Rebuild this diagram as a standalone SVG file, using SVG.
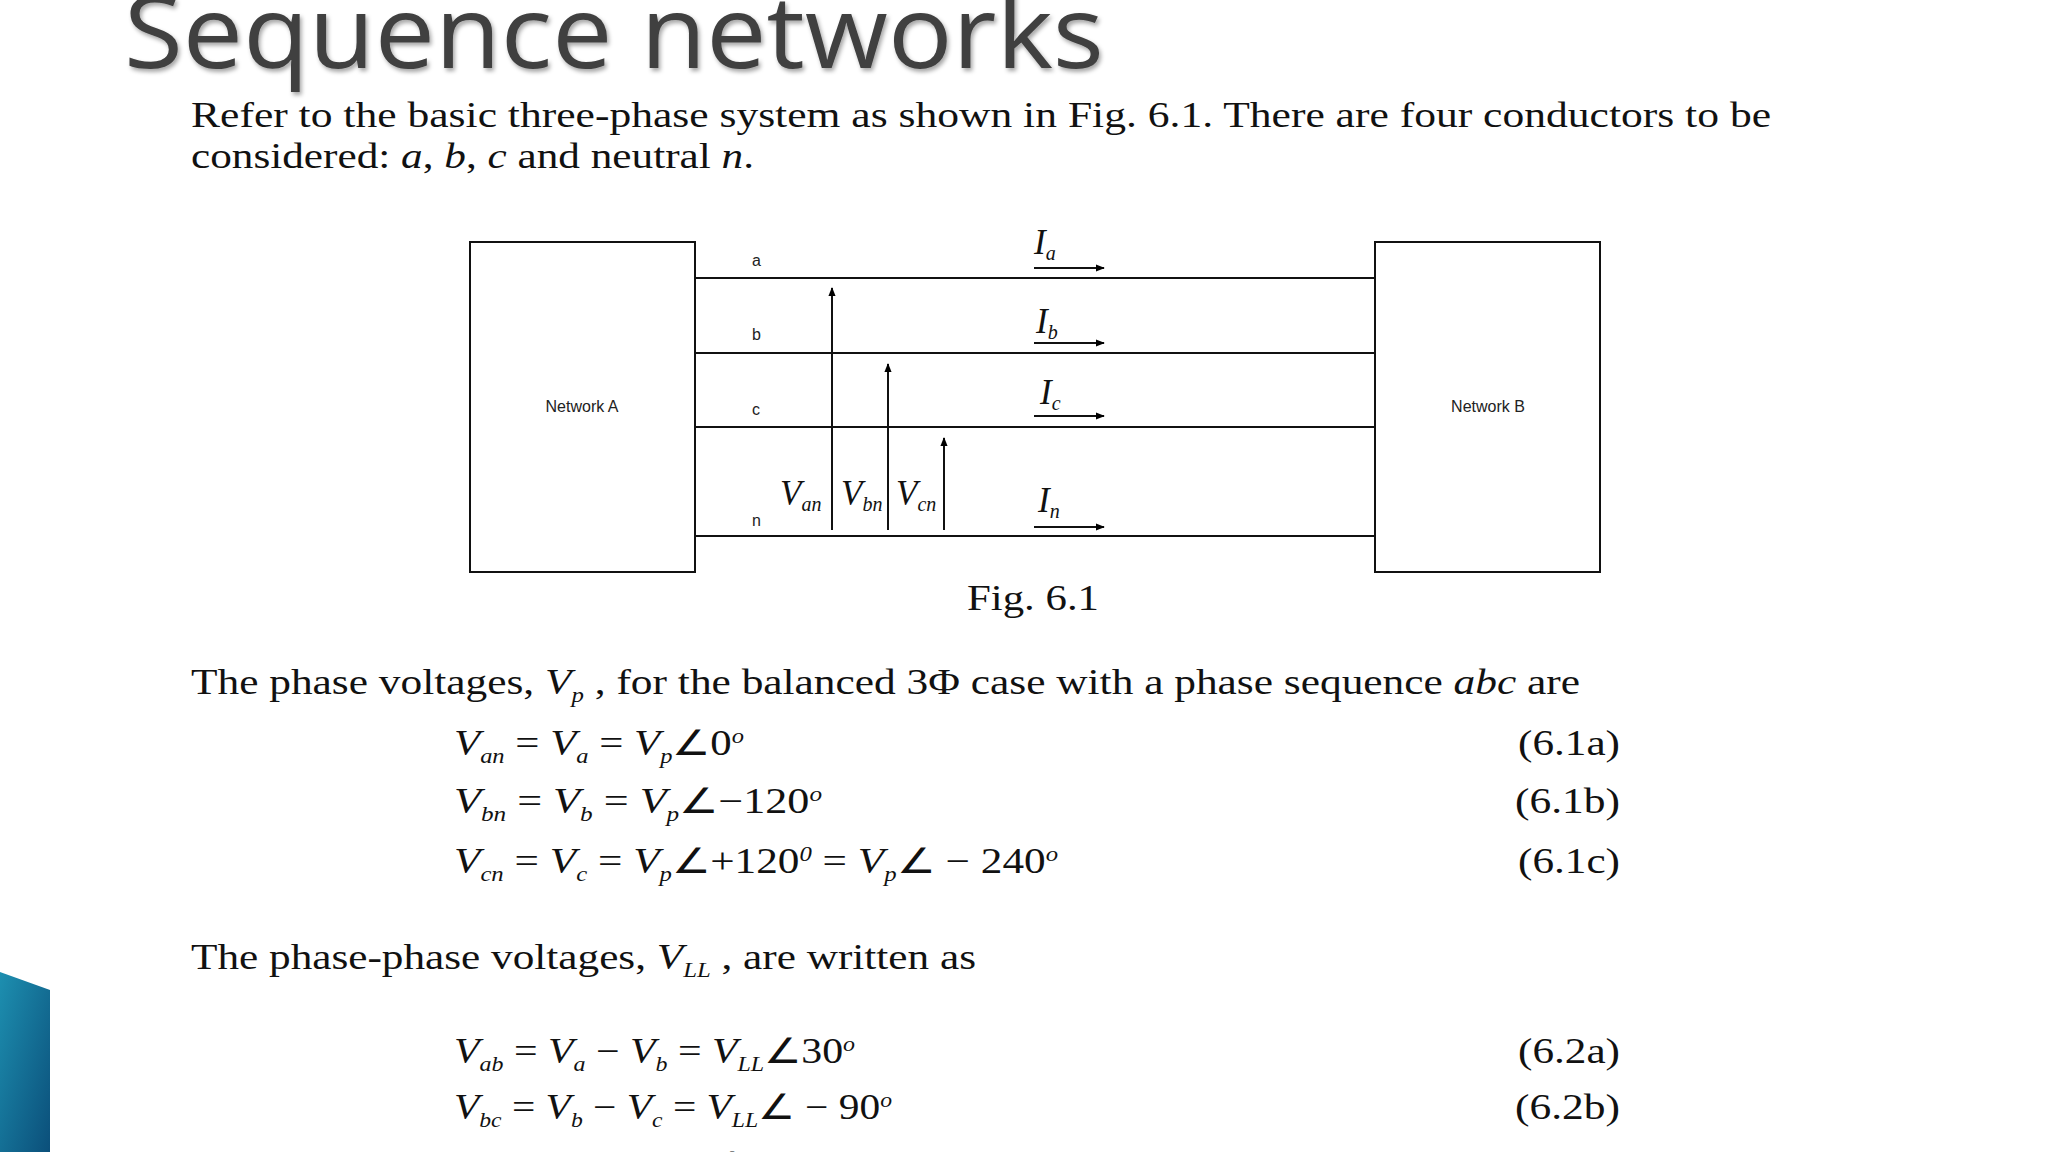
<svg xmlns="http://www.w3.org/2000/svg" width="2048" height="1152" viewBox="0 0 2048 1152">
<defs>
<linearGradient id="teal" x1="0" y1="0" x2="1" y2="1"><stop offset="0" stop-color="#1d8fb0"/><stop offset="1" stop-color="#0b4f7a"/></linearGradient>
<filter id="sh"><feDropShadow dx="2" dy="3" stdDeviation="2" flood-color="#000" flood-opacity="0.35"/></filter>
<marker id="ah" viewBox="0 0 10 10" refX="9" refY="5" markerWidth="9" markerHeight="9" markerUnits="userSpaceOnUse" orient="auto"><path d="M0,1 L10,5 L0,9 Z" fill="#000"/></marker>
</defs>
<style>
.s{font-family:"Liberation Serif",serif;font-size:35px;fill:#111}
.i{font-style:italic}
.sub{font-size:20px;font-style:italic}
.lab{font-family:"Liberation Sans",Arial,sans-serif;font-size:16px;fill:#222}
.box{fill:#fff;stroke:#111;stroke-width:2}
.ln{stroke:#111;stroke-width:2;fill:none}
</style>
<rect width="2048" height="1152" fill="#fff"/>
<path d="M0,972 L50,990 L50,1152 L0,1152 Z" fill="url(#teal)"/>
<text x="124" y="68" font-family="Open Sans, sans-serif" font-size="100" fill="#404040" filter="url(#sh)" textLength="980" lengthAdjust="spacingAndGlyphs">Sequence networks</text>
<text class="s" x="191" y="127" textLength="1580" lengthAdjust="spacingAndGlyphs">Refer to the basic three-phase system as shown in Fig. 6.1.  There are four conductors to be</text>
<text class="s" x="191" y="168" textLength="563" lengthAdjust="spacingAndGlyphs">considered: <tspan class="i">a</tspan>, <tspan class="i">b</tspan>, <tspan class="i">c</tspan> and neutral <tspan class="i">n</tspan>.</text>

<g id="networkA"><rect class="box" x="470" y="242" width="225" height="330"/><text class="lab" x="582" y="412" text-anchor="middle">Network A</text></g>
<g id="networkB"><rect class="box" x="1375" y="242" width="225" height="330"/><text class="lab" x="1488" y="412" text-anchor="middle">Network B</text></g>
<g id="connectors">
<line class="ln" x1="695" y1="278" x2="1375" y2="278"/>
<line class="ln" x1="695" y1="353" x2="1375" y2="353"/>
<line class="ln" x1="695" y1="427" x2="1375" y2="427"/>
<line class="ln" x1="695" y1="536" x2="1375" y2="536"/>
<line class="ln" x1="832" y1="530" x2="832" y2="288" marker-end="url(#ah)"/>
<line class="ln" x1="888" y1="530" x2="888" y2="364" marker-end="url(#ah)"/>
<line class="ln" x1="944" y1="530" x2="944" y2="438" marker-end="url(#ah)"/>
<line class="ln" x1="1034" y1="268" x2="1104" y2="268" marker-end="url(#ah)"/>
<line class="ln" x1="1034" y1="343" x2="1104" y2="343" marker-end="url(#ah)"/>
<line class="ln" x1="1034" y1="416" x2="1104" y2="416" marker-end="url(#ah)"/>
<line class="ln" x1="1034" y1="527" x2="1104" y2="527" marker-end="url(#ah)"/>
</g>
<g id="labels">
<text class="lab" x="752" y="266">a</text>
<text class="lab" x="752" y="340">b</text>
<text class="lab" x="752" y="415">c</text>
<text class="lab" x="752" y="526">n</text>
<text class="s i" x="1034" y="254" font-size="30">I<tspan class="sub" font-size="14" dy="6">a</tspan></text>
<text class="s i" x="1036" y="333" font-size="30">I<tspan class="sub" font-size="14" dy="6">b</tspan></text>
<text class="s i" x="1040" y="404" font-size="30">I<tspan class="sub" font-size="14" dy="6">c</tspan></text>
<text class="s i" x="1038" y="512" font-size="30">I<tspan class="sub" font-size="14" dy="6">n</tspan></text>
<text class="s i" x="780" y="505" font-size="30">V<tspan class="sub" font-size="14" dy="6">an</tspan></text>
<text class="s i" x="841" y="505" font-size="30">V<tspan class="sub" font-size="14" dy="6">bn</tspan></text>
<text class="s i" x="896" y="505" font-size="30">V<tspan class="sub" font-size="14" dy="6">cn</tspan></text>
<text class="s" x="1033" y="610" text-anchor="middle" textLength="132" lengthAdjust="spacingAndGlyphs">Fig. 6.1</text>
</g>

<text class="s" x="191" y="694" textLength="1389" lengthAdjust="spacingAndGlyphs">The phase voltages, <tspan class="i">V</tspan><tspan class="sub" dy="8">p</tspan><tspan dy="-8"> , for the balanced 3Φ case with a phase sequence </tspan><tspan class="i">abc</tspan> are</text>
<text class="s" x="454" y="755" textLength="290" lengthAdjust="spacingAndGlyphs"><tspan class="i">V</tspan><tspan class="sub" dy="8">an</tspan><tspan dy="-8"> = </tspan><tspan class="i">V</tspan><tspan class="sub" dy="8">a</tspan><tspan dy="-8"> = </tspan><tspan class="i">V</tspan><tspan class="sub" dy="8">p</tspan><tspan dy="-8">∠0</tspan><tspan class="sub" dy="-12">o</tspan></text>
<text class="s" x="1518" y="755" textLength="102" lengthAdjust="spacingAndGlyphs">(6.1a)</text>
<text class="s" x="454" y="813" textLength="368" lengthAdjust="spacingAndGlyphs"><tspan class="i">V</tspan><tspan class="sub" dy="8">bn</tspan><tspan dy="-8"> = </tspan><tspan class="i">V</tspan><tspan class="sub" dy="8">b</tspan><tspan dy="-8"> = </tspan><tspan class="i">V</tspan><tspan class="sub" dy="8">p</tspan><tspan dy="-8">∠−120</tspan><tspan class="sub" dy="-12">o</tspan></text>
<text class="s" x="1515" y="813" textLength="105" lengthAdjust="spacingAndGlyphs">(6.1b)</text>
<text class="s" x="454" y="873" textLength="604" lengthAdjust="spacingAndGlyphs"><tspan class="i">V</tspan><tspan class="sub" dy="8">cn</tspan><tspan dy="-8"> = </tspan><tspan class="i">V</tspan><tspan class="sub" dy="8">c</tspan><tspan dy="-8"> = </tspan><tspan class="i">V</tspan><tspan class="sub" dy="8">p</tspan><tspan dy="-8">∠+120</tspan><tspan class="sub" dy="-12" font-style="normal">0</tspan><tspan dy="12"> = </tspan><tspan class="i">V</tspan><tspan class="sub" dy="8">p</tspan><tspan dy="-8">∠ − 240</tspan><tspan class="sub" dy="-12">o</tspan></text>
<text class="s" x="1518" y="873" textLength="102" lengthAdjust="spacingAndGlyphs">(6.1c)</text>
<text class="s" x="191" y="969" textLength="785" lengthAdjust="spacingAndGlyphs">The phase-phase voltages, <tspan class="i">V</tspan><tspan class="sub" dy="8">LL</tspan><tspan dy="-8"> , are written as</tspan></text>
<text class="s" x="454" y="1063" textLength="401" lengthAdjust="spacingAndGlyphs"><tspan class="i">V</tspan><tspan class="sub" dy="8">ab</tspan><tspan dy="-8"> = </tspan><tspan class="i">V</tspan><tspan class="sub" dy="8">a</tspan><tspan dy="-8"> − </tspan><tspan class="i">V</tspan><tspan class="sub" dy="8">b</tspan><tspan dy="-8"> = </tspan><tspan class="i">V</tspan><tspan class="sub" dy="8">LL</tspan><tspan dy="-8">∠30</tspan><tspan class="sub" dy="-12">o</tspan></text>
<text class="s" x="1518" y="1063" textLength="102" lengthAdjust="spacingAndGlyphs">(6.2a)</text>
<text class="s" x="454" y="1119" textLength="438" lengthAdjust="spacingAndGlyphs"><tspan class="i">V</tspan><tspan class="sub" dy="8">bc</tspan><tspan dy="-8"> = </tspan><tspan class="i">V</tspan><tspan class="sub" dy="8">b</tspan><tspan dy="-8"> − </tspan><tspan class="i">V</tspan><tspan class="sub" dy="8">c</tspan><tspan dy="-8"> = </tspan><tspan class="i">V</tspan><tspan class="sub" dy="8">LL</tspan><tspan dy="-8">∠ − 90</tspan><tspan class="sub" dy="-12">o</tspan></text>
<text class="s" x="1515" y="1119" textLength="105" lengthAdjust="spacingAndGlyphs">(6.2b)</text>
<text class="s" x="454" y="1177"><tspan class="i">V</tspan><tspan class="sub" dy="8">ca</tspan><tspan dy="-8"> = </tspan><tspan class="i">V</tspan><tspan class="sub" dy="8">c</tspan><tspan dy="-8"> − </tspan><tspan class="i">V</tspan><tspan class="sub" dy="8">a</tspan><tspan dy="-8"> = </tspan><tspan class="i">V</tspan><tspan class="sub" dy="8">LL</tspan><tspan dy="-8">∠150</tspan><tspan class="sub" dy="-12">o</tspan></text>
<text class="s" x="1518" y="1177">(6.2c)</text>
</svg>
